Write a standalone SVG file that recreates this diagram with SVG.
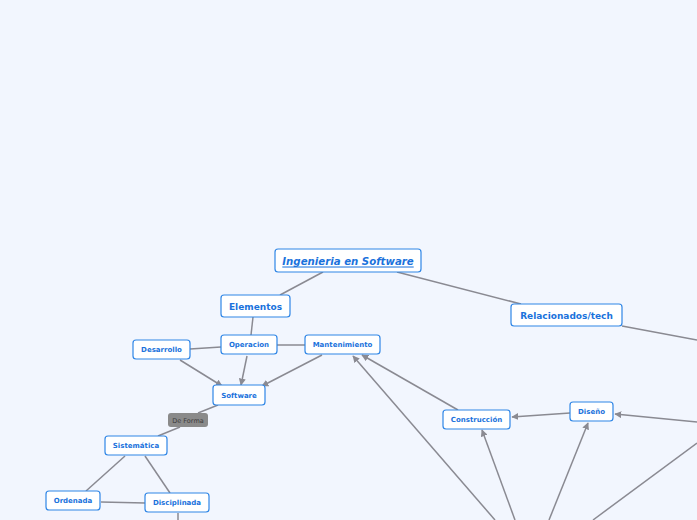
<svg xmlns="http://www.w3.org/2000/svg" width="697" height="520" viewBox="0 0 697 520">
<defs>
<marker id="ar" viewBox="0 0 10 10" refX="9" refY="5" markerWidth="7" markerHeight="7" markerUnits="userSpaceOnUse" orient="auto">
<path d="M0,0 L10,5 L0,10 z" fill="#8a8a92"/>
</marker>
<style>
.bg{fill:#f2f6fe}
.n rect{fill:#ffffff;stroke:#2f86e6;stroke-width:1.2}
.n text{font-family:"DejaVu Sans",Verdana,sans-serif;font-weight:bold;fill:#1a72dc;text-anchor:middle;dominant-baseline:central}
.s text{font-size:7px}
.m text{font-size:9px}
.e line{stroke:#8a8a92;stroke-width:1.5;fill:none}
.a{marker-end:url(#ar)}
</style>
</defs>
<rect class="bg" x="0" y="0" width="697" height="520"/>
<g class="e" id="connectors">
<line x1="323" y1="272" x2="280" y2="295"/>
<line x1="397" y1="272" x2="521" y2="304"/>
<line x1="622" y1="326" x2="697" y2="340"/>
<line x1="253" y1="317" x2="251" y2="335"/>
<line x1="221" y1="347" x2="190" y2="349"/>
<line x1="277" y1="345" x2="305" y2="345"/>
<line class="a" x1="247" y1="356" x2="241" y2="385"/>
<line class="a" x1="180" y1="360" x2="222" y2="386"/>
<line class="a" x1="322" y1="355" x2="262" y2="386"/>
<line x1="218" y1="405" x2="198" y2="413"/>
<line x1="180" y1="427" x2="158" y2="436"/>
<line x1="125" y1="456" x2="86" y2="491"/>
<line x1="145" y1="456" x2="170" y2="493"/>
<line x1="101" y1="502" x2="145" y2="503"/>
<line x1="178" y1="513" x2="178" y2="520"/>
<line class="a" x1="458" y1="410" x2="362" y2="355"/>
<line class="a" x1="495" y1="520" x2="353" y2="356"/>
<line class="a" x1="570" y1="413" x2="512" y2="417"/>
<line class="a" x1="697" y1="422" x2="615" y2="414"/>
<line class="a" x1="515" y1="520" x2="482" y2="430"/>
<line class="a" x1="549" y1="520" x2="588" y2="423"/>
<line x1="593" y1="520" x2="697" y2="443"/>
</g>
<g class="n" id="ingenieria">
<rect x="275" y="249" width="146" height="23" rx="3"/>
<text x="348" y="261" font-size="10.2" font-style="italic" text-decoration="underline">Ingenieria en Software</text>
</g>
<g class="n m" id="elementos">
<rect x="221" y="295" width="69" height="22" rx="3"/>
<text x="255.5" y="306.5">Elementos</text>
</g>
<g class="n m" id="relacionados">
<rect x="511" y="304" width="111" height="22" rx="3"/>
<text x="566.5" y="315.5">Relacionados/tech</text>
</g>
<g class="n s" id="operacion">
<rect x="221" y="335" width="56" height="19" rx="3"/>
<text x="249" y="345">Operacion</text>
</g>
<g class="n s" id="mantenimiento">
<rect x="305" y="335" width="75" height="19" rx="3"/>
<text x="342.5" y="345">Mantenimiento</text>
</g>
<g class="n s" id="desarrollo">
<rect x="133" y="340" width="57" height="19" rx="3"/>
<text x="161.5" y="350">Desarrollo</text>
</g>
<g class="n s" id="software">
<rect x="213" y="385" width="52" height="20" rx="3"/>
<text x="239" y="395.5">Software</text>
</g>
<g id="deforma">
<rect x="168" y="413" width="40" height="14" rx="3" fill="#8a8a8a"/>
<text x="188" y="420.5" font-family="DejaVu Sans,Verdana,sans-serif" font-size="6.5" fill="#3a3a3a" text-anchor="middle" dominant-baseline="central">De Forma</text>
</g>
<g class="n s" id="sistematica">
<rect x="105" y="436" width="62" height="19" rx="3"/>
<text x="136" y="446">Sistemática</text>
</g>
<g class="n s" id="ordenada">
<rect x="46" y="491" width="54" height="19" rx="3"/>
<text x="73" y="501">Ordenada</text>
</g>
<g class="n s" id="disciplinada">
<rect x="145" y="493" width="64" height="19" rx="3"/>
<text x="177" y="503">Disciplinada</text>
</g>
<g class="n s" id="construccion">
<rect x="443" y="410" width="67" height="19" rx="3"/>
<text x="476.5" y="420">Construcción</text>
</g>
<g class="n s" id="diseno">
<rect x="570" y="402" width="43" height="19" rx="3"/>
<text x="591.5" y="412">Diseño</text>
</g>
</svg>
